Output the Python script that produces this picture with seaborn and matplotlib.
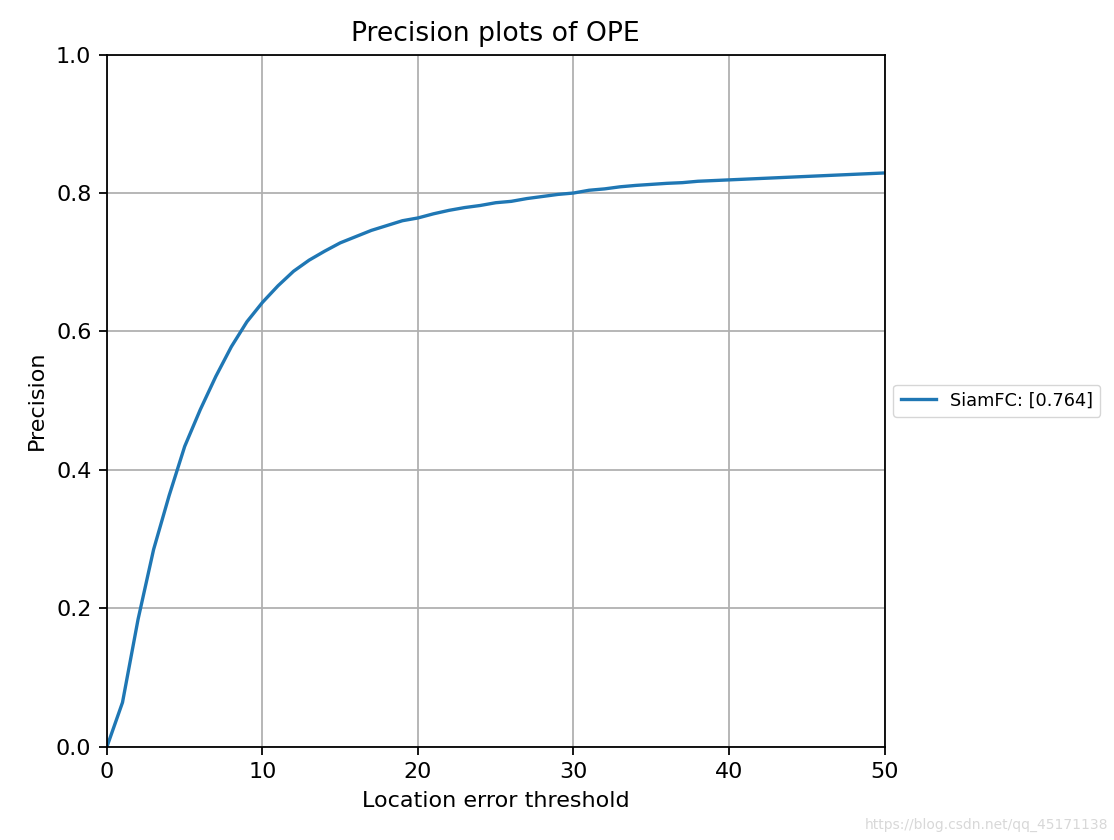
import matplotlib
matplotlib.use("Agg")
import matplotlib.pyplot as plt
import pandas as pd
import seaborn as sns

# precision at each location error threshold (0..50 px)
thresholds = list(range(0, 51))
precision = [
    0.000, 0.064, 0.184, 0.285, 0.363, 0.434, 0.487, 0.535, 0.578, 0.614,
    0.642, 0.666, 0.687, 0.703, 0.716, 0.728, 0.737, 0.746, 0.753, 0.760,
    0.764, 0.770, 0.775, 0.779, 0.782, 0.786, 0.788, 0.792, 0.795, 0.798,
    0.800, 0.804, 0.806, 0.809, 0.811, 0.8125, 0.814, 0.815, 0.817, 0.818,
    0.819, 0.820, 0.821, 0.822, 0.823, 0.824, 0.825, 0.826, 0.827, 0.828,
    0.829,
]
tracker_name = "SiamFC"
score_at_20 = 0.764

s = 1.6  # scale relative to matplotlib defaults
plt.rcParams.update({
    "font.family": ["DejaVu Sans"],
    "font.size": 10 * s,
    "xtick.major.size": 3.5 * s,
    "ytick.major.size": 3.5 * s,
    "xtick.major.width": 0.8 * s,
    "ytick.major.width": 0.8 * s,
    "xtick.major.pad": 3.5 * s,
    "ytick.major.pad": 3.5 * s,
    "axes.linewidth": 0.8 * s,
    "axes.labelpad": 4.0 * s,
})

df = pd.DataFrame({"threshold": thresholds, "precision": precision})

fig = plt.figure(figsize=(11.14, 8.4), dpi=100)
ax = fig.add_axes([0.096, 0.111, 0.698, 0.824])

sns.lineplot(
    data=df, x="threshold", y="precision", ax=ax,
    color="#1f77b4", linewidth=1.5 * s,
    label=f"{tracker_name}: [{score_at_20:.3f}]",
)

ax.set_xlim(0, 50)
ax.set_ylim(0, 1)
ax.set_xticks([0, 10, 20, 30, 40, 50])
ax.set_yticks([0.0, 0.2, 0.4, 0.6, 0.8, 1.0])
ax.grid(True, color="#b0b0b0", linewidth=0.8 * s)
ax.set_axisbelow(True)
ax.tick_params(labelsize=10 * s)
ax.set_xlabel("Location error threshold", fontsize=10 * s)
ax.set_ylabel("Precision", fontsize=10 * s)
ax.set_title("Precision plots of OPE", fontsize=12 * s, pad=6 * s)

ax.legend(loc="center left", bbox_to_anchor=(1.0, 0.5), fontsize=8 * s,
          frameon=True, edgecolor="#cccccc")

fig.text(0.995, 0.01, "https://blog.csdn.net/qq_45171138", ha="right", va="bottom",
         fontsize=10, color="#d8d8d8")

fig.savefig("out.png", dpi=100)
